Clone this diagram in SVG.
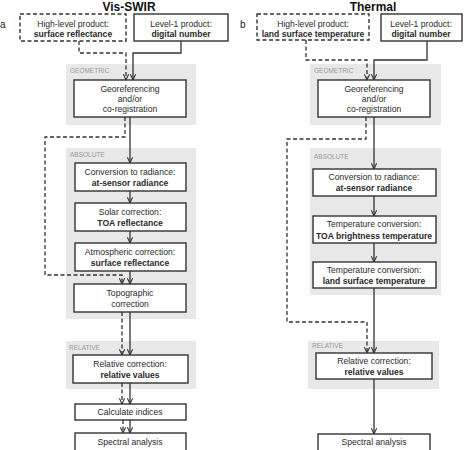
<svg xmlns="http://www.w3.org/2000/svg" width="474" height="450" viewBox="0 0 474 450">
<defs>
<style>
.bg{fill:#ffffff}
.panel{fill:#e8e8e8;stroke:none}
.box{fill:#ffffff;stroke:#333333;stroke-width:1.4}
.dbox{fill:#ffffff;stroke:#333333;stroke-width:1.4;stroke-dasharray:4 2.5}
.t{font-family:"Liberation Sans",Arial,sans-serif;font-size:8.6px;fill:#2a2a2a;text-anchor:middle}
.b{font-weight:bold}
.lab{font-family:"Liberation Sans",Arial,sans-serif;font-size:6.5px;fill:#9a9a9a}
.title{font-family:"Liberation Sans",Arial,sans-serif;font-size:12px;font-weight:bold;fill:#111;text-anchor:middle}
.letter{font-family:"Liberation Sans",Arial,sans-serif;font-size:10px;fill:#222}
.c{fill:none;stroke:#333333;stroke-width:1.3}
.d{fill:none;stroke:#333333;stroke-width:1.3;stroke-dasharray:4 2.5}
</style>
<marker id="ah" viewBox="0 0 8 8" refX="7.5" refY="4" markerWidth="7" markerHeight="7" orient="auto" markerUnits="userSpaceOnUse">
<path d="M1,1 L7.5,4 L1,7" fill="none" stroke="#333333" stroke-width="1.2"/>
</marker>
</defs>
<rect class="bg" x="0" y="0" width="474" height="450"/>

<text class="title" x="129" y="10.5">Vis-SWIR</text>
<text class="title" x="373" y="10.5">Thermal</text>
<text class="letter" x="0" y="28">a</text>
<text class="letter" x="240" y="28">b</text>

<g id="panels">
<rect class="panel" x="66" y="64" width="130" height="61"/>
<text class="lab" x="70" y="73">GEOMETRIC</text>
<rect class="panel" x="66" y="148" width="130" height="171"/>
<text class="lab" x="70" y="157">ABSOLUTE</text>
<rect class="panel" x="66" y="341" width="130" height="48"/>
<text class="lab" x="69" y="350">RELATIVE</text>
<rect class="panel" x="310" y="64" width="131" height="61"/>
<text class="lab" x="314" y="73">GEOMETRIC</text>
<rect class="panel" x="310" y="148" width="131" height="147"/>
<text class="lab" x="314" y="159">ABSOLUTE</text>
<rect class="panel" x="308" y="341" width="131" height="48"/>
<text class="lab" x="312" y="348">RELATIVE</text>
</g>

<g id="connectors">
<path class="d" d="M79,41 V53 H126 V80" marker-end="url(#ah)"/>
<path class="c" d="M181,41 V53 H133 V80" marker-end="url(#ah)"/>
<path class="d" d="M125,117 V137 H45 V275 H122 V284" marker-end="url(#ah)"/>
<path class="c" d="M130,117 V163" marker-end="url(#ah)"/>
<path class="c" d="M130,191 V203" marker-end="url(#ah)"/>
<path class="c" d="M130,231 V243" marker-end="url(#ah)"/>
<path class="c" d="M130,271 V284" marker-end="url(#ah)"/>
<path class="d" d="M122,312 V355" marker-end="url(#ah)"/>
<path class="c" d="M130,312 V355" marker-end="url(#ah)"/>
<path class="d" d="M122,383 V404" marker-end="url(#ah)"/>
<path class="c" d="M130,383 V404" marker-end="url(#ah)"/>
<path class="d" d="M123,420 V433" marker-end="url(#ah)"/>
<path class="c" d="M130,420 V433" marker-end="url(#ah)"/>

<path class="d" d="M306,40 V60 H367 V80" marker-end="url(#ah)"/>
<path class="c" d="M427,41 V60 H374 V80" marker-end="url(#ah)"/>
<path class="d" d="M366,117 V139 H287 V322 H367 V353" marker-end="url(#ah)"/>
<path class="c" d="M374,117 V169" marker-end="url(#ah)"/>
<path class="c" d="M374,196 V216" marker-end="url(#ah)"/>
<path class="c" d="M374,243 V262" marker-end="url(#ah)"/>
<path class="c" d="M374,288 V353" marker-end="url(#ah)"/>
<path class="c" d="M374,379 V434" marker-end="url(#ah)"/>
</g>

<g id="a-highlevel">
<rect class="dbox" x="20" y="14" width="106" height="27"/>
<text class="t" x="73" y="27">High-level product:</text>
<text class="t b" x="73" y="37">surface reflectance</text>
</g>
<g id="a-level1">
<rect class="box" x="134" y="14" width="94" height="27"/>
<text class="t" x="181" y="27">Level-1 product:</text>
<text class="t b" x="181" y="37">digital number</text>
</g>
<g id="a-georef">
<rect class="box" x="74" y="80" width="112" height="37"/>
<text class="t" x="130" y="92">Georeferencing</text>
<text class="t" x="130" y="102">and/or</text>
<text class="t" x="130" y="112">co-registration</text>
</g>
<g id="a-radiance">
<rect class="box" x="75" y="163" width="111" height="28"/>
<text class="t" x="130" y="175">Conversion to radiance:</text>
<text class="t b" x="130" y="186">at-sensor radiance</text>
</g>
<g id="a-solar">
<rect class="box" x="75" y="203" width="111" height="28"/>
<text class="t" x="130" y="215">Solar correction:</text>
<text class="t b" x="130" y="226">TOA reflectance</text>
</g>
<g id="a-atmos">
<rect class="box" x="75" y="243" width="111" height="28"/>
<text class="t" x="130" y="255">Atmospheric correction:</text>
<text class="t b" x="130" y="266">surface reflectance</text>
</g>
<g id="a-topo">
<rect class="box" x="74" y="284" width="112" height="28"/>
<text class="t" x="130" y="296">Topographic</text>
<text class="t" x="130" y="307">correction</text>
</g>
<g id="a-relative">
<rect class="box" x="73" y="355" width="115" height="28"/>
<text class="t" x="130" y="367">Relative correction:</text>
<text class="t b" x="130" y="378">relative values</text>
</g>
<g id="a-indices">
<rect class="box" x="75" y="404" width="111" height="16"/>
<text class="t" x="130" y="415">Calculate indices</text>
</g>
<g id="a-spectral">
<rect class="box" x="75" y="433" width="111" height="22"/>
<text class="t" x="130" y="445">Spectral analysis</text>
</g>

<g id="b-highlevel">
<rect class="dbox" x="257" y="14" width="112" height="26"/>
<text class="t" x="313" y="27">High-level product:</text>
<text class="t b" x="313" y="37">land surface temperature</text>
</g>
<g id="b-level1">
<rect class="box" x="381" y="14" width="81" height="27"/>
<text class="t" x="421" y="27">Level-1 product:</text>
<text class="t b" x="421" y="37">digital number</text>
</g>
<g id="b-georef">
<rect class="box" x="318" y="80" width="112" height="37"/>
<text class="t" x="374" y="92">Georeferencing</text>
<text class="t" x="374" y="102">and/or</text>
<text class="t" x="374" y="112">co-registration</text>
</g>
<g id="b-radiance">
<rect class="box" x="313" y="169" width="123" height="27"/>
<text class="t" x="374" y="180">Conversion to radiance:</text>
<text class="t b" x="374" y="191">at-sensor radiance</text>
</g>
<g id="b-toa">
<rect class="box" x="313" y="216" width="123" height="27"/>
<text class="t" x="374" y="227">Temperature conversion:</text>
<text class="t b" x="374" y="239">TOA brightness temperature</text>
</g>
<g id="b-lst">
<rect class="box" x="313" y="262" width="123" height="26"/>
<text class="t" x="374" y="273">Temperature conversion:</text>
<text class="t b" x="374" y="284">land surface temperature</text>
</g>
<g id="b-relative">
<rect class="box" x="316" y="353" width="116" height="26"/>
<text class="t" x="374" y="364">Relative correction:</text>
<text class="t b" x="374" y="375">relative values</text>
</g>
<g id="b-spectral">
<rect class="box" x="318" y="434" width="112" height="22"/>
<text class="t" x="374" y="445">Spectral analysis</text>
</g>
</svg>
